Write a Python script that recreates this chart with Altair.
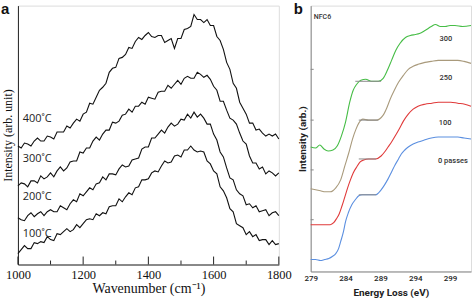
import altair as alt
import pandas as pd

# ---------------- panel a : spectra ----------------
wn = list(range(1000, 1801, 10))

int_400 = [119, 117, 122, 121, 119, 124, 127, 124, 124, 129, 128, 126, 133, 133, 133, 139, 137, 142, 146, 144,
           151, 153, 162, 161, 168, 175, 178, 182, 193, 197, 198, 207, 208, 211, 218, 217, 224, 228, 226, 230,
           233, 229, 228, 230, 230, 223, 225, 227, 217, 227, 227, 236, 237, 239, 251, 246, 246, 243, 246, 240,
           240, 229, 225, 216, 203, 196, 182, 177, 163, 157, 151, 142, 142, 135, 136, 132, 129, 131, 129, 131, 126]
int_300 = [79, 82, 81, 78, 84, 84, 82, 89, 86, 88, 92, 88, 94, 98, 94, 97, 103, 104, 104, 113,
           112, 117, 117, 124, 128, 125, 131, 135, 135, 143, 142, 144, 150, 151, 156, 153, 159, 159, 163, 161,
           168, 167, 166, 173, 174, 174, 180, 177, 181, 185, 181, 187, 189, 187, 187, 193, 191, 188, 190, 186,
           179, 175, 164, 164, 155, 147, 145, 141, 132, 124, 121, 109, 102, 102, 96, 98, 91, 94, 92, 89, 92]
int_200 = [47, 45, 44, 49, 52, 48, 51, 53, 49, 53, 55, 53, 53, 59, 57, 55, 61, 65, 63, 71,
           69, 73, 77, 75, 81, 82, 88, 85, 91, 91, 90, 96, 100, 98, 99, 105, 106, 107, 116, 118,
           118, 127, 127, 131, 135, 132, 138, 142, 139, 141, 146, 145, 151, 147, 153, 148, 151, 147, 141, 141,
           131, 125, 113, 108, 97, 87, 85, 75, 71, 69, 60, 61, 57, 59, 53, 54, 55, 49, 52, 53, 49]
int_100 = [11, 15, 19, 16, 16, 22, 21, 23, 22, 28, 25, 24, 31, 30, 33, 36, 33, 35, 40, 37,
           41, 45, 46, 45, 51, 49, 52, 51, 58, 59, 59, 66, 63, 68, 72, 70, 77, 78, 85, 85,
           86, 92, 94, 93, 99, 104, 102, 103, 109, 110, 108, 115, 115, 119, 115, 113, 114, 113, 104, 101,
           94, 91, 78, 74, 67, 56, 53, 41, 39, 37, 30, 33, 28, 30, 24, 25, 25, 20, 24, 20, 21]

labels_a = ["100˚C", "200˚C", "300˚C", "400˚C"]
label_a_y = [31, 68, 106, 146]
label_a_x = [1015, 1015, 1015, 1015]

major_a = [1000, 1200, 1400, 1600, 1800]
minor_a = [1100, 1300, 1500, 1700]

# ---------------- panel b : edges ----------------
ev_300 = [279.0, 279.7, 280.3, 280.9, 281.5, 282.2, 282.8, 283.4, 284.0, 284.6, 285.1, 285.6, 286.2, 286.9,
          287.7, 288.7, 289.4, 290.0, 290.6, 291.2, 291.8, 292.6, 293.3, 294.0, 294.6, 295.4, 296.3, 296.9,
          297.6, 298.3, 299.0, 299.7, 300.8, 302.0]
h_300 = [125, 124, 127, 123, 121, 122, 126, 136, 150, 170, 182, 188, 192, 193,
         191, 191, 194, 202, 212, 222, 229, 235, 237, 238, 239, 242, 246, 248,
         246, 246, 247, 247, 246, 247]
ev_250 = [279.0, 279.7, 280.4, 281.1, 281.8, 282.6, 283.3, 283.9, 284.5, 285.0, 285.5, 285.9, 286.5, 287.3,
          288.4, 289.4, 289.9, 290.4, 291.0, 291.6, 292.3, 293.0, 293.7, 294.4, 295.4, 296.3, 297.3, 298.3,
          299.2, 300.1, 301.0, 302.0]
h_250 = [83, 82, 81, 80, 80, 84, 92, 106, 120, 133, 143, 149, 153, 152,
         152, 157, 164, 173, 182, 190, 197, 203, 206, 208, 210, 211, 212, 212,
         212, 212, 211, 209]
ev_100 = [279.0, 279.7, 280.5, 281.2, 281.8, 282.3, 282.7, 283.1, 283.5, 283.9, 284.3, 284.7, 285.1, 285.6,
          286.1, 286.6, 287.3, 288.3, 289.1, 289.6, 290.1, 290.6, 291.2, 291.7, 292.3, 293.0, 293.7, 294.4,
          295.4, 296.4, 297.3, 298.3, 299.1, 300.1, 301.1, 302.0]
h_100 = [47, 47, 47, 47, 47, 49, 53, 58, 66, 75, 84, 92, 99, 105,
         110, 112, 113, 113, 116, 120, 125, 130, 137, 143, 151, 158, 163, 166,
         168, 169, 170, 170, 170, 169, 168, 166]
ev_0 = [279.0, 279.7, 280.4, 281.0, 281.6, 282.1, 282.6, 283.0, 283.3, 283.7, 284.0, 284.4, 284.9, 285.4,
        285.9, 286.4, 286.9, 287.6, 288.3, 289.1, 289.6, 290.1, 290.6, 291.1, 291.6, 292.0, 292.5, 293.0,
        293.7, 294.4, 295.3, 296.3, 297.3, 298.3, 299.3, 300.1, 301.0, 302.0]
h_0 = [12, 12, 11, 12, 13, 15, 18, 23, 30, 40, 50, 59, 67, 72,
       76, 77, 77, 77, 77, 82, 87, 93, 100, 107, 113, 118, 122, 125,
       128, 130, 132, 134, 135, 135, 135, 135, 134, 133]

series_b = ["300", "250", "100", "0 passes"]
colors_b = ["#46bd46", "#a99a7c", "#e03a3a", "#5b8fe0"]

plateau_start = [285.4, 285.9, 285.9, 285.9]
plateau_end = [289.1, 288.7, 288.4, 288.4]
plateau_h = [191, 152, 113, 77]

label_b_x = [298.4, 298.4, 298.3, 299.4]
label_b_h = [233, 194, 149, 111]

ticks_b_x = [279, 284, 289, 294, 299]
ticks_b_y = [52, 102, 152, 203]

# ---------------- build panel a ----------------
df_a = pd.DataFrame({
    "wn": wn * 4,
    "I": int_100 + int_200 + int_300 + int_400,
    "s": ["100"] * len(wn) + ["200"] * len(wn) + ["300"] * len(wn) + ["400"] * len(wn),
})
df_a_lab = pd.DataFrame({"wn": label_a_x, "I": label_a_y, "t": labels_a})
df_major = pd.DataFrame({"wn": major_a})
df_minor = pd.DataFrame({"wn": minor_a})
df_ta = pd.DataFrame({"t": ["a"]})

xa = alt.X("wn:Q",
           scale=alt.Scale(domain=[1000, 1800], nice=False, zero=False),
           axis=alt.Axis(values=major_a, format="d", ticks=False, grid=False, labelFlush=False,
                         labelFont="Liberation Serif", labelFontSize=12.5, labelColor="#111",
                         labelPadding=4, domainColor="#222",
                         titleFont="Liberation Serif", titleFontSize=14, titleFontWeight="normal",
                         titleColor="#111", titlePadding=1),
           title="Wavenumber (cm⁻¹)")
ya = alt.Y("I:Q",
           scale=alt.Scale(domain=[0, 260], nice=False, zero=False),
           axis=alt.Axis(labels=False, ticks=False, grid=False, domainColor="#222",
                         titleFont="Liberation Serif", titleFontSize=12, titleFontWeight="normal",
                         titleColor="#111", titlePadding=3),
           title="Intensity (arb. unit)")

lines_a = alt.Chart(df_a).mark_line(color="#111", strokeWidth=1.1).encode(x=xa, y=ya, detail="s:N")
major_rules = alt.Chart(df_major).mark_rule(color="#222", strokeWidth=1).encode(
    x=xa, y=alt.value(260), y2=alt.value(252))
minor_rules = alt.Chart(df_minor).mark_rule(color="#222", strokeWidth=1).encode(
    x=xa, y=alt.value(260), y2=alt.value(256))
text_a = alt.Chart(df_a_lab).mark_text(align="left", baseline="middle", font="Open Sans",
                                         fontSize=11, color="#222222").encode(x=xa, y=ya, text="t:N")
title_a = alt.Chart(df_ta).mark_text(align="left", baseline="alphabetic", font="Liberation Sans",
                                      fontSize=15, fontWeight="bold", color="#111").encode(
    x=alt.value(-17), y=alt.value(8), text="t:N")

panel_a = alt.layer(lines_a, major_rules, minor_rules, text_a, title_a).properties(width=262, height=260)

# ---------------- build panel b ----------------
rows = []
for name, evs, hs in [("300", ev_300, h_300), ("250", ev_250, h_250), ("100", ev_100, h_100), ("0 passes", ev_0, h_0)]:
    for e, h in zip(evs, hs):
        rows.append({"ev": e, "h": h, "s": name})
df_b = pd.DataFrame(rows)
df_plat = pd.DataFrame({"ev": plateau_start, "ev2": plateau_end, "h": plateau_h})
df_b_lab = pd.DataFrame({"ev": label_b_x, "h": label_b_h, "t": series_b})
df_ytick = pd.DataFrame({"h": ticks_b_y})
df_nfc = pd.DataFrame({"ev": [279.45], "h": [256], "t": ["NFC6"]})
df_tb = pd.DataFrame({"t": ["b"]})

xb = alt.X("ev:Q",
           scale=alt.Scale(domain=[279, 302], nice=False, zero=False),
           axis=alt.Axis(values=ticks_b_x, format="d", ticks=False, grid=False, labelFlush=False,
                         labelFont="Roboto", labelFontSize=8, labelFontWeight=500, labelColor="#222",
                         labelPadding=3, domainColor="#888",
                         titleFont="Roboto", titleFontSize=10, titleFontWeight="bold",
                         titleColor="#222", titlePadding=5),
           title="Energy Loss (eV)")
yb = alt.Y("h:Q",
           scale=alt.Scale(domain=[0, 267], nice=False, zero=False),
           axis=alt.Axis(labels=False, ticks=False, grid=False, domainColor="#888",
                         titleFont="Roboto", titleFontSize=10, titleFontWeight="bold",
                         titleColor="#222", titlePadding=3),
           title="Intensity (arb.)")

lines_b = alt.Chart(df_b).mark_line(strokeWidth=1.1, interpolate="monotone").encode(
    x=xb, y=yb,
    color=alt.Color("s:N", scale=alt.Scale(domain=series_b, range=colors_b), legend=None))
plat_b = alt.Chart(df_plat).mark_rule(color="#8a8a8a", strokeWidth=1).encode(x=xb, x2="ev2:Q", y=yb)
ytick_b = alt.Chart(df_ytick).mark_rule(color="#888", strokeWidth=1).encode(
    x=alt.value(0), x2=alt.value(3), y=yb)
lab_b = alt.Chart(df_b_lab).mark_text(align="center", baseline="middle", font="Roboto",
                                        fontSize=7.5, fontWeight=500, color="#333").encode(
    x=xb, y=yb, text="t:N")
nfc_b = alt.Chart(df_nfc).mark_text(align="left", baseline="middle", font="Roboto",
                                     fontSize=7, fontWeight=500, color="#333").encode(
    x=xb, y=yb, text="t:N")
title_b = alt.Chart(df_tb).mark_text(align="left", baseline="alphabetic", font="Liberation Sans",
                                      fontSize=15, fontWeight="bold", color="#111").encode(
    x=alt.value(-17), y=alt.value(8), text="t:N")

panel_b = alt.layer(lines_b, plat_b, ytick_b, lab_b, nfc_b, title_b).properties(width=161, height=267)

chart = alt.hconcat(panel_a, panel_b, spacing=32, bounds="flush").properties(
    padding={"left": 0, "top": 0, "right": 0, "bottom": 0}
).configure_view(stroke="#999", strokeWidth=1).configure(background="white")

chart.save("out.html", embed_options={"renderer": "svg", "actions": False})
